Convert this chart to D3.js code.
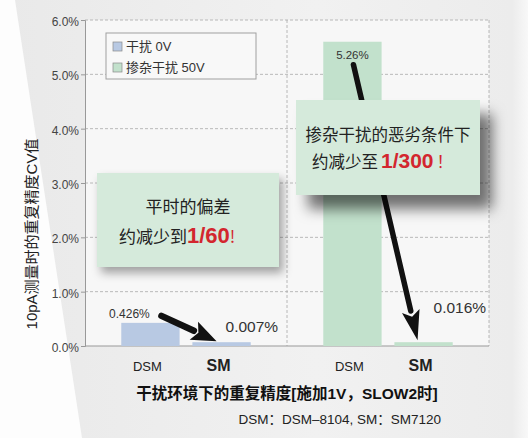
<!DOCTYPE html>
<html>
<head>
<meta charset="utf-8">
<script src="https://cdn.jsdelivr.net/npm/d3@7"></script>
<style>
  body { margin: 0; background: #fff; }
  text { font-family: "Liberation Sans", Arial, "Noto Sans CJK SC", sans-serif; }
  .cjk { font-family: "Noto Sans CJK SC", "Liberation Sans", sans-serif; }
</style>
</head>
<body>
<div class="chart"></div>
<script>
var width = 528, height = 438;
var margin = { top: 20, right: 39, bottom: 92, left: 85 };

// data
var groups = ["干扰 0V", "掺杂干扰 50V"];
var models = ["DSM", "SM"];
var noise0V = [0.426, 0.07];     // bar heights as drawn
var noise50V = [5.6, 0.07];
var labels0V = ["0.426%", "0.007%"];
var labels50V = ["5.26%", "0.016%"];
var yTicks = [0, 1, 2, 3, 4, 5, 6];
var colors = ["#b8c9e3", "#c2e1cc"];

var svg = d3.select(".chart").append("svg")
  .attr("width", width).attr("height", height);

var defs = svg.append("defs");
defs.append("filter").attr("id", "shadow1")
  .attr("x", "-20%").attr("y", "-20%").attr("width", "150%").attr("height", "160%")
  .append("feDropShadow")
  .attr("dx", 4).attr("dy", 6).attr("stdDeviation", 5)
  .attr("flood-color", "#000").attr("flood-opacity", 0.35);
defs.append("filter").attr("id", "shadow2")
  .attr("x", "-20%").attr("y", "-20%").attr("width", "160%").attr("height", "180%")
  .append("feDropShadow")
  .attr("dx", 12).attr("dy", 14).attr("stdDeviation", 7)
  .attr("flood-color", "#000").attr("flood-opacity", 0.55);

var bgGrad = defs.append("linearGradient").attr("id", "bg")
  .attr("x1", 0).attr("x2", 1).attr("y1", 0).attr("y2", 0);
bgGrad.append("stop").attr("offset", 0).attr("stop-color", "#e9e9e9");
bgGrad.append("stop").attr("offset", 0.6).attr("stop-color", "#f1f1f1");
bgGrad.append("stop").attr("offset", 0.97).attr("stop-color", "#ececec");
bgGrad.append("stop").attr("offset", 1).attr("stop-color", "#f8f8f8");

// background + white wedge on the left
svg.append("rect").attr("width", width).attr("height", height).attr("fill", "url(#bg)");
svg.append("path").attr("d", "M0,0 L15,0 L82,438 L0,438 Z").attr("fill", "#fdfdfd");

var x0 = margin.left, x1 = width - margin.right;
var y0 = height - margin.bottom, y1 = margin.top;

svg.append("rect").attr("x", x0).attr("y", y1)
  .attr("width", x1 - x0).attr("height", y0 - y1).attr("fill", "#f7f7f7");

var y = d3.scaleLinear().domain([0, 6]).range([y0, y1]);
var xGroup = d3.scaleBand().domain(groups).range([x0, x1]);
var xModel = d3.scaleBand().domain(models).range([0, xGroup.bandwidth()])
  .paddingInner(0.18).paddingOuter(0.51);

// grid
svg.append("g").selectAll("line").data(yTicks.slice(1)).enter().append("line")
  .attr("x1", x0).attr("x2", x1)
  .attr("y1", d => y(d)).attr("y2", d => y(d))
  .attr("stroke", "#a8a8a8").attr("stroke-width", 0.8).attr("stroke-dasharray", "3,2");
svg.append("g").selectAll("line").data([xGroup(groups[1]), x1]).enter().append("line")
  .attr("x1", d => d).attr("x2", d => d).attr("y1", y1).attr("y2", y0)
  .attr("stroke", "#a8a8a8").attr("stroke-width", 0.8).attr("stroke-dasharray", "3,2");

// y axis
var yAxis = d3.axisLeft(y).tickValues(yTicks).tickSize(4)
  .tickFormat(d => d3.format(".1f")(d) + "%");
var ya = svg.append("g").attr("transform", `translate(${x0},0)`).call(yAxis);
ya.select(".domain").attr("stroke", "#999");
ya.selectAll(".tick line").attr("stroke", "#999");
ya.selectAll("text").attr("font-size", 12).attr("fill", "#444")
  .attr("font-family", "Liberation Sans, Arial, sans-serif").attr("dx", 1).attr("dy", "0.45em");

// bottom axis line
svg.append("line").attr("x1", x0).attr("x2", x1).attr("y1", y0).attr("y2", y0)
  .attr("stroke", "#999").attr("stroke-width", 1);

// bars
var series = [
  { group: groups[0], values: noise0V, labels: labels0V, color: colors[0] },
  { group: groups[1], values: noise50V, labels: labels50V, color: colors[1] }
];
var barData = [];
series.forEach(s => models.forEach((m, i) => barData.push({
  group: s.group, model: m, value: s.values[i], label: s.labels[i], color: s.color
})));
var bx = d => xGroup(d.group) + xModel(d.model);
var bcx = d => bx(d) + xModel.bandwidth() / 2;

svg.append("g").selectAll("rect").data(barData).enter().append("rect")
  .attr("x", bx).attr("y", d => y(d.value))
  .attr("width", xModel.bandwidth()).attr("height", d => y0 - y(d.value))
  .attr("fill", d => d.color);

// category labels
svg.append("g").selectAll("text").data(barData).enter().append("text")
  .attr("x", d => bcx(d) - 3).attr("y", y0 + 25)
  .attr("text-anchor", "middle")
  .attr("font-size", d => d.model == "SM" ? 16 : 13)
  .attr("font-weight", d => d.model == "SM" ? "bold" : "normal")
  .attr("fill", "#222")
  .text(d => d.model);

// value labels
var dsm0 = barData[0], sm0 = barData[1], dsm50 = barData[2], sm50 = barData[3];
svg.append("text").attr("x", bcx(dsm0) - 21).attr("y", y(dsm0.value) - 5)
  .attr("text-anchor", "middle").attr("font-size", 12).attr("fill", "#333").text(dsm0.label);
svg.append("text").attr("x", bcx(sm0) + 4).attr("y", y(sm0.value) - 10)
  .attr("font-size", 15.5).attr("fill", "#333").text(sm0.label);
svg.append("text").attr("x", bcx(dsm50)).attr("y", y(dsm50.value) + 17)
  .attr("text-anchor", "middle").attr("font-size", 11.5).attr("fill", "#333").text(dsm50.label);
svg.append("text").attr("x", bcx(sm50) + 10).attr("y", y(sm50.value) - 29)
  .attr("font-size", 15.5).attr("fill", "#333").text(sm50.label);

// legend
var legend = svg.append("g").attr("transform", "translate(106,33)");
legend.append("rect").attr("width", 150).attr("height", 46)
  .attr("fill", "#f8f8f8").attr("stroke", "#a0a0a0");
groups.forEach((g, i) => {
  legend.append("rect").attr("x", 7).attr("y", 9 + i * 21).attr("width", 9).attr("height", 9)
    .attr("fill", colors[i]).attr("stroke", "#8a8a8a").attr("stroke-width", 0.7);
  legend.append("text").attr("x", 20).attr("y", 18 + i * 21)
    .attr("font-size", 13).attr("fill", "#333").text(g);
});

// arrows
function arrow(xa, ya, xb, yb, headLen, headW, lw) {
  var ang = Math.atan2(yb - ya, xb - xa);
  var bx0 = xb - headLen * Math.cos(ang), by0 = yb - headLen * Math.sin(ang);
  var px = -Math.sin(ang) * headW / 2, py = Math.cos(ang) * headW / 2;
  svg.append("line").attr("x1", xa).attr("y1", ya).attr("x2", bx0).attr("y2", by0)
    .attr("stroke", "#111").attr("stroke-width", lw).attr("stroke-linecap", "round");
  svg.append("path")
    .attr("d", `M${xb},${yb} L${bx0 + px},${by0 + py} L${bx0 + headLen * 0.2 * Math.cos(ang)},${by0 + headLen * 0.2 * Math.sin(ang)} L${bx0 - px},${by0 - py} Z`)
    .attr("fill", "#111");
}

// callout boxes
function callout(bxX, bxY, w, h, filt) {
  svg.append("rect").attr("x", bxX).attr("y", bxY).attr("width", w).attr("height", h)
    .attr("fill", "#d5eadb").attr("filter", filt);
}

arrow(bcx(dsm0) + 11, y(dsm0.value) - 7, bcx(sm0) - 5, y(sm0.value) - 1, 25, 20, 6.5);
arrow(bcx(dsm50) + 1, y(dsm50.value) + 23, bcx(sm50) - 6, y(sm50.value) - 2, 30, 18, 5.5);

callout(97, 173, 182, 94, "url(#shadow1)");
var t1 = svg.append("g").attr("fill", "#222");
t1.append("text").attr("class", "cjk").attr("x", 188).attr("y", 213)
  .attr("text-anchor", "middle").attr("font-size", 17).text("平时的偏差");
var l2 = t1.append("text").attr("class", "cjk").attr("x", 119).attr("y", 243).attr("font-size", 17);
l2.append("tspan").text("约减少到");
l2.append("tspan").attr("fill", "#d3262e").attr("font-weight", "bold").attr("font-size", 22)
  .attr("font-family", "Liberation Sans, Arial, sans-serif").text("1/60");
l2.append("tspan").attr("fill", "#d3262e").text("!");

callout(296, 100, 184, 95, "url(#shadow2)");
svg.append("text").attr("class", "cjk").attr("x", 388).attr("y", 141)
  .attr("text-anchor", "middle").attr("font-size", 16.5).attr("fill", "#222").text("掺杂干扰的恶劣条件下");
var l4 = svg.append("text").attr("class", "cjk").attr("x", 312).attr("y", 168).attr("font-size", 16.5).attr("fill", "#222");
l4.append("tspan").text("约减少至");
l4.append("tspan").attr("fill", "#d3262e").attr("font-weight", "bold").attr("font-size", 21)
  .attr("font-family", "Liberation Sans, Arial, sans-serif").attr("dx", 3).text("1/300");
l4.append("tspan").attr("fill", "#d3262e").attr("dx", 3).text("！");

// axis titles
svg.append("text")
  .attr("transform", `translate(37,${(y0 + y1) / 2 + 51}) rotate(-90)`)
  .attr("text-anchor", "middle").attr("font-size", 15).attr("fill", "#222")
  .text("10pA测量时的重复精度CV值");
svg.append("text").attr("x", 287).attr("y", 399)
  .attr("text-anchor", "middle").attr("font-size", 15.5).attr("font-weight", "bold").attr("fill", "#111")
  .text("干扰环境下的重复精度[施加1V，SLOW2时]");
svg.append("text").attr("x", 441).attr("y", 424)
  .attr("text-anchor", "end").attr("font-size", 13.5).attr("fill", "#222")
  .text("DSM：DSM–8104, SM：SM7120");
</script>
</body>
</html>
